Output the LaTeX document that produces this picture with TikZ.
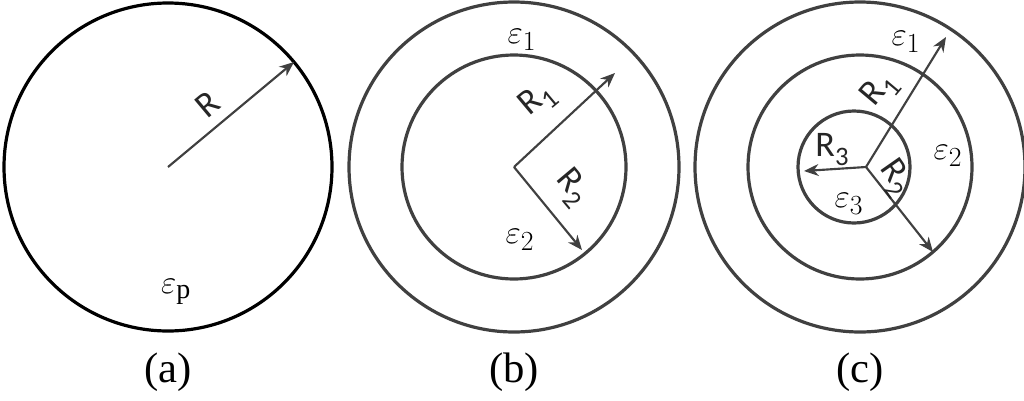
\documentclass[tikz,border=0pt]{standalone}
\usepackage{fontspec}
\setsansfont{Carlito}
\setmainfont{Liberation Serif}
\usetikzlibrary{arrows.meta}
\newcommand{\sub}[1]{\raisebox{-0.25em}{\fontsize{20}{20}\selectfont #1}}
\begin{document}
\begin{tikzpicture}[x=0.75pt,y=-0.75pt,
  ring/.style={draw=black!75,line width=2.4pt},
  arr/.style={draw=black!75,line width=1.6pt,-{Stealth[length=11pt,width=9pt]}},
  rl/.style={font=\sffamily\fontsize{27}{27}\selectfont,text=black!85,inner sep=0pt},
  el/.style={font=\fontsize{30}{30}\selectfont,text=black,inner sep=0pt},
  captext/.style={font=\fontsize{32}{32}\selectfont}]
\useasboundingbox (0,0) rectangle (1024,400);
% (a)
\node[draw=black,line width=2.4pt,circle,minimum size=328pt*0.75] (ca) at (168,167) {};
\coordinate (oa) at (168,167); \coordinate (ta) at (294,62);
\draw[arr] (oa) -- (ta);
\node[rl,rotate=40] (Ra) at (208,104) {R};
\node[el] (ea) at (176,292) {$\varepsilon_{\mathrm{p}}$};
\node[captext] (la) at (168,372) {(a)};
% (b)
\node[ring,circle,minimum size=330pt*0.75] (cb1) at (514,167) {};
\node[ring,circle,minimum size=224pt*0.75] (cb2) at (514,167) {};
\coordinate (ob) at (514,167); \coordinate (tb1) at (615,73); \coordinate (tb2) at (582,250);
\draw[arr] (ob) -- (tb1);
\draw[arr] (ob) -- (tb2);
\node[rl,rotate=40] (Rb1) at (538,100) {R\sub{1}};
\node[rl,rotate=-50] (Rb2) at (572,188) {R\sub{2}};
\node[el] (eb1) at (522,40) {$\varepsilon_1$};
\node[el] (eb2) at (520,240) {$\varepsilon_2$};
\node[captext] (lb) at (514,372) {(b)};
% (c)
\node[ring,circle,minimum size=330pt*0.75] (cc1) at (860,167) {};
\node[ring,circle,minimum size=224pt*0.75] (cc2) at (860,167) {};
\node[ring,circle,minimum size=112pt*0.75] (cc3) at (854,167) {};
\coordinate (oc) at (866,167); \coordinate (tc1) at (946,37); \coordinate (tc2) at (933,252); \coordinate (tc3) at (804,171);
\draw[arr] (oc) -- (tc1);
\draw[arr] (oc) -- (tc2);
\draw[arr] (oc) -- (tc3);
\node[rl,rotate=50] (Rc1) at (880,90) {R\sub{1}};
\node[rl,rotate=-55] (Rc2) at (895,178) {R\sub{2}};
\node[rl] (Rc3) at (832,150) {R\sub{3}};
\node[el] (ec1) at (906,42) {$\varepsilon_1$};
\node[el] (ec2) at (948,156) {$\varepsilon_2$};
\node[el] (ec3) at (849,204) {$\varepsilon_3$};
\node[captext] (lc) at (860,372) {(c)};
\end{tikzpicture}
\end{document}
